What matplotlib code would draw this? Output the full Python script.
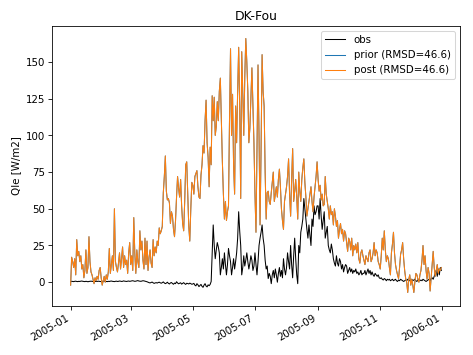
import matplotlib
matplotlib.use("Agg")
import matplotlib.pyplot as plt
import matplotlib.dates as mdates
import pandas as pd
import numpy as np

title = "DK-Fou"
ylabel = "Qle [W/m2]"
start_date = "2005-01-01"
labels = ["obs", "prior (RMSD=46.6)", "post (RMSD=46.6)"]

# daily latent heat flux, post (== prior) by month
post_jan = [-2, 17, 14, 10, 16, 5, 29, 18, 21, 14, 18, 9, 12, 3, 8, 22, 6, 10, 31, 14, 7, 5, 2, -1, 3, 1, 4, 2, 8, 10, 3]
post_feb = [-2, 1, 4, 0, 5, 2, 7, 23, 6, 12, 18, 8, 50, 14, 10, 7, 13, 20, 9, 16, 24, 10, 18, 12, 15, 6, 20, 27]
post_mar = [12, 18, 8, 44, 20, 6, 22, 14, 10, 35, 22, 28, 15, 9, 30, 12, 28, 8, 17, 22, 13, 10, 29, 18, 24, 20, 28, 25, 37, 33, 35]
post_apr = [38, 61, 72, 86, 62, 56, 57, 54, 40, 48, 45, 36, 31, 42, 58, 72, 64, 58, 70, 52, 40, 35, 55, 80, 82, 60, 38, 28, 50, 68]
post_may = [66, 60, 72, 74, 76, 65, 58, 57, 73, 80, 93, 88, 110, 124, 95, 85, 65, 92, 80, 127, 110, 126, 100, 106, 123, 110, 130, 139, 110, 82, 60]
post_jun = [43, 55, 42, 48, 52, 110, 159, 100, 128, 80, 60, 120, 95, 130, 160, 120, 57, 157, 130, 100, 140, 166, 150, 130, 95, 105, 125, 146, 120, 95]
post_jul = [60, 34, 90, 148, 100, 39, 90, 155, 130, 120, 75, 43, 61, 62, 55, 53, 61, 68, 75, 55, 60, 65, 58, 70, 77, 65, 50, 42, 36, 55, 60]
post_aug = [65, 72, 84, 60, 45, 70, 91, 55, 62, 70, 58, 43, 75, 62, 55, 70, 78, 84, 68, 58, 45, 50, 55, 60, 65, 55, 48, 58, 65, 72, 82]
post_sep = [70, 62, 66, 56, 60, 52, 53, 72, 60, 55, 50, 43, 52, 46, 48, 39, 50, 45, 38, 42, 30, 36, 40, 33, 36, 28, 35, 33, 27, 21]
post_oct = [30, 28, 22, 30, 18, 25, 22, 26, 20, 27, 16, 13, 20, 22, 18, 15, 12, 18, 16, 14, 20, 22, 14, 16, 20, 27, 18, 22, 20, 14, 12]
post_nov = [9, 18, 30, 22, 35, 22, 14, 18, 16, 10, 5, 20, 26, 34, 20, 12, 8, 5, 2.5, 10, 19, 22, 27, 16, 8, 2.5, 0, -7, 2, 5]
post_dec = [-2, 2, -2, -7, 0, 6, 5, 2, 0, 5, 8, 15, 25, 12, 18, 8, 2, 10, 6, -6, 3, 12, 21, 10, 4, 8, 12, 6, 9, 8, 10]

# observed, by month
obs_jan = [0.5, 0.6, 0.5, 0.4, 0.6, 0.7, 0.5, 0.4, 0.6, 0.5, 0.7, 0.8, 0.6, 0.5, 0.4, 0.6, 0.5, 0.3, 0.5, 0.6, 0.7, 0.6, 0.5, 0.4, 0.5, 0.6, 0.5, 0.7, 0.6, 0.5, 0.4]
obs_feb = [0.5, 0.6, 0.8, 0.7, 0.5, 0.4, 0.6, 0.5, 0.7, 0.8, 0.6, 0.5, 0.4, 0.6, 0.7, 0.5, 0.6, 0.8, 0.7, 0.5, 0.6, 0.9, 0.7, 0.6, 0.5, 0.7, 0.8, 0.6]
obs_mar = [0.7, 0.9, 1.0, 0.8, 0.6, 0.7, 0.9, 1.1, 0.8, 0.7, 0.6, 0.8, 1.0, 0.9, 0.7, 0.5, 0.3, 0.0, -0.3, -0.5, -0.2, 0.1, -0.4, -0.8, -0.5, -0.3, -0.6, -0.2, 0.0, -0.4, -0.7]
obs_apr = [-0.3, 0.2, -0.5, -1.0, -0.6, 0.0, -0.8, -1.2, -0.5, -0.2, -0.9, -1.4, -0.6, -1.0, 0.3, -0.5, -1.1, -0.7, -0.4, -1.3, -0.8, -0.3, -1.0, -1.5, -0.7, -0.9, -1.2, -0.6, -1.0, -1.4]
obs_may = [-1.2, -0.8, -2.0, -2.5, -1.0, -1.8, -3.0, -2.2, -1.5, -2.8, -3.5, -2.0, -1.0, -2.6, -3.2, -1.8, -2.4, -1.5, 0.5, 20, 39, 25, 16, 22, 27, 24, 20, 5, 10, 16, 9]
obs_jun = [20, 12, 5, 12, 23, 18, 14, 5, 10, 16, 9, 14, 20, 30, 48, 35, 25, 5, 10, 18, 11, 15, 20, 14, 9, 13, 18, 15, 8, 11]
obs_jul = [20, 12, 5, 14, 25, 30, 34, 39, 30, 25, 15, 9, 11, 2.5, 6, 4, -1, 5, 8, 3, 9, 5, 0, 6, 10, 4, 8, 3, 16, 9, 5]
obs_aug = [10, 20, 14, 9, 25, 12, 3, 18, 30, 16, 5, -1, 25, 20, 34, 38, 43, 57, 50, 43, 36, 30, 39, 32, 25, 43, 38, 52, 46, 48, 52]
obs_sep = [52, 43, 57, 45, 36, 42, 48, 30, 34, 38, 25, 22, 20, 26, 22, 16, 13, 11, 18, 13, 11, 16, 14, 9, 12, 7, 10, 12, 11, 6]
obs_oct = [8, 10, 7, 9, 6, 8, 7, 9, 6, 7, 5, 6, 8, 5, 6, 6, 8, 5, 7, 9, 6, 8, 5, 7, 5, 4, 6, 5, 4, 5, 3]
obs_nov = [2.5, 3, 2, 1.5, 2.5, 2, 1, 2, 1.5, 2, 1, 1.5, 2, 1, 1.5, 2, 1, 0.5, 1.5, 1, 2, 1.5, 1, 0.5, 1, 1.5, 1, 2, 1.5, 1]
obs_dec = [1.5, 2, 1, 1.5, 2, 1, 0.5, 1.5, 2, 1, 1.5, 1, 2, 1.5, 1, 0.5, 1, 1.5, 2, 1, 2.5, 3, 2, 4, 6, 8, 4, 9, 5, 10, 8]

post = (post_jan + post_feb + post_mar + post_apr + post_may + post_jun +
        post_jul + post_aug + post_sep + post_oct + post_nov + post_dec)
prior = list(post)
obs = (obs_jan + obs_feb + obs_mar + obs_apr + obs_may + obs_jun +
       obs_jul + obs_aug + obs_sep + obs_oct + obs_nov + obs_dec)

dates_post = pd.date_range(start_date, periods=len(post), freq="D")
dates_obs = pd.date_range(start_date, periods=len(obs), freq="D")

fig = plt.figure(figsize=(6.4, 4.8), dpi=74)
ax = fig.add_axes([0.110, 0.138, 0.861, 0.789])
ax.plot(dates_obs, obs, color="k", lw=1.0, label=labels[0])
ax.plot(dates_post, prior, color="C0", lw=1.0, label=labels[1])
ax.plot(dates_post, post, color="C1", lw=1.0, label=labels[2])

ax.set_ylim(-16.2, 174.7)
ax.set_yticks([0, 25, 50, 75, 100, 125, 150])
ax.xaxis.set_major_locator(mdates.MonthLocator(bymonth=[1, 3, 5, 7, 9, 11]))
ax.xaxis.set_major_formatter(mdates.DateFormatter("%Y-%m"))
for lab in ax.get_xticklabels():
    lab.set_rotation(30)
    lab.set_ha("right")
ax.set_title(title)
ax.set_ylabel(ylabel)
ax.legend(loc="upper right")
fig.savefig("out.png", dpi=74)
